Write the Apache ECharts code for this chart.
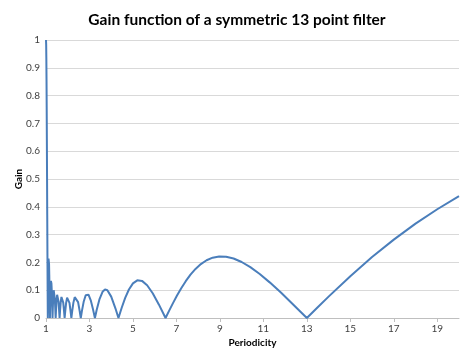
<!DOCTYPE html>
<html><head><meta charset="utf-8">
<script src="https://cdn.jsdelivr.net/npm/echarts@6/dist/echarts.min.js"></script>
<style>html,body{margin:0;padding:0;background:#fff}#c{width:474px;height:362px}</style>
</head><body><div id="c"></div>
<script>
var titleText = 'Gain function of a symmetric 13 point filter';
var xName = 'Periodicity';
var yName = 'Gain';
var periodicity = [1,1.0078,1.0156,1.0236,1.0317,1.04,1.0484,1.0569,1.0656,1.0744,1.0833,
1.0879,1.0924,1.1017,1.1111,1.1159,1.1207,1.1255,1.1304,1.1404,1.1504,1.1607,1.1712,1.1765,1.1818,
1.1927,1.2037,1.2150,1.2264,1.2381,1.25,1.2621,1.2745,1.2871,1.3,
1.3131,1.3333,1.3542,1.3684,1.3830,1.4054,1.4286,1.4444,
1.4607,1.4857,1.5116,1.5294,1.5476,1.5758,1.6049,1.625,
1.6456,1.6774,1.7105,1.7333,1.7568,1.7931,1.8310,1.8571,
1.8841,1.9259,1.9697,2,2.0313,2.08,2.1311,2.1667,
2.2034,2.2609,2.3214,2.3636,2.4074,2.4762,2.5490,2.6,
2.6531,2.7368,2.8261,2.8889,2.9545,3.0588,3.1707,3.25,
3.3333,3.4667,3.6111,3.7143,3.8235,4.0,4.1935,4.3333,
4.4828,4.6429,4.8148,5.0,5.2,5.4167,5.6522,5.9091,6.1905,6.5,
6.6667,6.8421,7.0270,7.2222,7.4286,7.6471,7.8788,8.125,8.3871,8.6667,8.9655,9.2857,9.6296,10,10.4,10.8333,11.3043,11.8182,12.381,13,
13.5,14,15,16,17,18,19,20];
var gain = [1,0.9837,0.9360,0.8592,0.7581,0.6382,0.5063,0.3696,0.2353,0.1101,0,
0.0479,0.0905,0.1581,0.2014,0.2139,0.2204,0.2213,0.2169,0.1940,0.1558,0.1073,0.0536,0.0265,0,
0.0489,0.0892,0.1179,0.1335,0.1354,0.1245,0.1025,0.0722,0.0369,0,
0.0349,0.0769,0.0999,0.1028,0.0957,0.0691,0.0294,0,
0.0284,0.0636,0.0837,0.0869,0.0816,0.0596,0.0257,0,
0.0252,0.0570,0.0758,0.0792,0.0749,0.0553,0.0240,0,
0.0239,0.0545,0.0732,0.0769,0.0732,0.0545,0.0239,0,
0.0240,0.0553,0.0749,0.0792,0.0758,0.0570,0.0252,0,
0.0257,0.0596,0.0816,0.0869,0.0837,0.0636,0.0284,0,
0.0294,0.0691,0.0957,0.1028,0.0999,0.0769,0.0349,0,
0.0369,0.0722,0.1025,0.1245,0.1354,0.1335,0.1179,0.0892,0.0489,0,
0.0265,0.0536,0.0808,0.1073,0.1325,0.1558,0.1765,0.1940,0.2076,0.2169,0.2213,0.2204,0.2139,0.2014,0.1828,0.1581,0.1273,0.0905,0.0479,0,
0.0387,0.0769,0.1505,0.2191,0.2820,0.3393,0.3912,0.4381];

var pts = periodicity.map(function(p,i){return [p, gain[i]];});
var chart = echarts.init(document.getElementById('c'), null, {renderer:'canvas'});
var fontFam = 'Lato, "Liberation Sans", sans-serif';
chart.setOption({
  animation:false,
  backgroundColor:'#ffffff',
  title:{text:titleText,left:'center',top:7,
    textStyle:{fontFamily:fontFam,fontSize:15.5,fontWeight:'bold',color:'#000'}},
  grid:{left:46,right:15,top:40,bottom:44,containLabel:false,outerBoundsMode:'none'},
  xAxis:{type:'value',min:1,max:20,interval:2,
    name:xName,nameLocation:'middle',nameGap:20,nameMoveOverlap:false,
    nameTextStyle:{fontFamily:fontFam,fontSize:10,fontWeight:'bold',color:'#000'},
    axisLine:{show:true,onZero:false,lineStyle:{color:'#bfbfbf',width:1}},
    axisTick:{show:true,length:4,inside:false,lineStyle:{color:'#bfbfbf'}},
    axisLabel:{fontFamily:fontFam,fontSize:10,color:'#404040',margin:6,showMaxLabel:false},
    splitLine:{show:false}},
  yAxis:{type:'value',min:0,max:1,interval:0.1,
    name:yName,nameLocation:'middle',nameGap:22,nameRotate:90,nameMoveOverlap:false,
    nameTextStyle:{fontFamily:fontFam,fontSize:10,fontWeight:'bold',color:'#000'},
    axisLine:{show:false},axisTick:{show:false},
    axisLabel:{fontFamily:fontFam,fontSize:10,color:'#404040',margin:6,
      formatter:function(v){return String(Math.round(v*10)/10);}},
    splitLine:{show:true,lineStyle:{color:'#d9d9d9',width:1}}},
  series:[{type:'line',data:pts,showSymbol:false,smooth:false,
    lineStyle:{color:'#4a7ebb',width:2},itemStyle:{color:'#4a7ebb'}}]
});
</script></body></html>
